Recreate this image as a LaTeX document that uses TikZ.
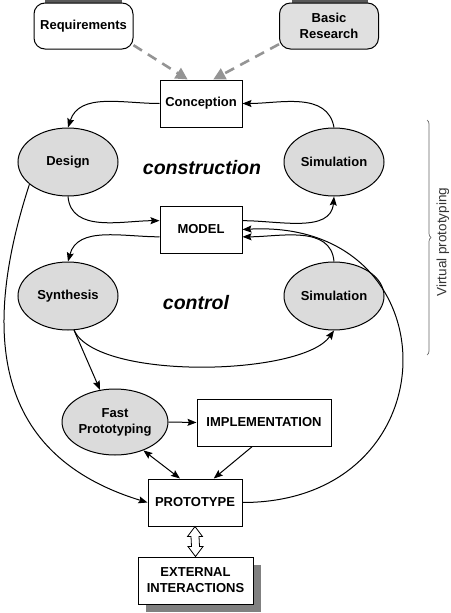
\documentclass[tikz,border=0pt]{standalone}
\usepackage{fontspec}
\setmainfont{Liberation Sans}
\usetikzlibrary{arrows.meta,shapes.geometric,shadows,decorations.pathreplacing,calc}

\begin{document}
\begin{tikzpicture}[x=1pt,y=-1pt,
  >={Stealth[length=9pt,width=7pt,inset=1.5pt]},
  lbl/.style={font=\bfseries\fontsize{13}{16}\selectfont,align=center},
  box/.style={lbl,draw,line width=1pt,fill=white,minimum height=47pt,inner sep=2pt},
  ell/.style={lbl,ellipse,draw,line width=1pt,fill=black!14,minimum width=100pt,minimum height=68pt,inner sep=1pt},
  rbox/.style={lbl,draw,line width=1pt,rounded corners=11pt,minimum width=99pt,minimum height=46pt},
  flow/.style={line width=1pt,->},
  feed/.style={draw=black!42,line width=2.6pt,dash pattern=on 10pt off 7pt,-{Triangle[length=12pt,width=12pt]}},
  title/.style={font=\bfseries\itshape\fontsize{19.5}{22}\selectfont}]
\useasboundingbox (0,0) rectangle (450,613);
% inputs at the top
\fill[black!65] (45,0) rectangle (122,10);
\fill[black!65] (292,0) rectangle (368,10);
\node[rbox,fill=white] (req) at (83.5,26) {Requirements};
\node[rbox,fill=black!12] (basic) at (329,26) {Basic\\Research};
\node[box,minimum width=82pt] (conc) at (201,103.5) {Conception};
\draw[feed] (req.-21) -- (conc.119);
\draw[feed] (basic.200) -- (conc.63);
% construction loop
\node[ell] (design) at (68,162) {Design};
\node[ell] (simA) at (334,162) {Simulation};
\node[title] (cons) at (202,168) {construction};
\node[box,minimum width=82pt] (model) at (201,229.5) {MODEL};
\draw[flow] (conc.west) to[out=180,in=72] (design.north);
\draw[flow] (simA.north) to[out=100,in=0] (conc.east);
\draw[flow] (design.south) to[out=-85,in=180] (model.168);
\draw[flow] (model.12) to[out=0,in=-95] (simA.south);
% control loop
\node[ell] (synth) at (68,296) {Synthesis};
\node[ell] (simB) at (334,296) {Simulation};
\node[title] (ctrl) at (196,303) {control};
\draw[flow] (model.190) to[out=180,in=75] (synth.north);
\draw[flow] (simB.north) to[out=95,in=0] (model.-10);
\draw[flow] (synth.-80) to[out=-65,in=-125,looseness=0.55] (simB.south);
% realisation
\node[ell,minimum width=99pt,minimum height=66pt] (fastp) at (115,422) {Fast\\Prototyping};
\node[box,minimum width=134pt] (impl) at (264,422.5) {IMPLEMENTATION};
\node[box,minimum width=94pt] (proto) at (195,502.5) {PROTOTYPE};
\node[box,minimum width=115pt,drop shadow={shadow xshift=8pt,shadow yshift=-8pt,fill=black!50,opacity=1}] (ext) at (195.5,580.5) {EXTERNAL\\INTERACTIONS};
\draw[flow] (synth.-80) -- (fastp.115);
\draw[flow] (fastp.east) -- (impl.west);
\draw[flow,<->] (fastp.-45) -- (proto.122);
\draw[flow] (impl.244) -- (proto.52);
\draw[flow] (design.210) to[out=-108,in=163,looseness=1.2] (proto.west);
\draw[flow] (proto.east) to[out=0,in=3,looseness=2] (model.east);
% hollow double arrow
\draw[line width=0.8pt,fill=white] (proto.south) -- ++(7.5,10) -- ++(-3.5,0) -- ($(ext.north)+(4,-10)$) -- ++(3.5,0) -- (ext.north) -- ++(-7.5,-10) -- ++(3.5,0) -- ($(proto.south)+(-4,10)$) -- ++(-3.5,0) -- cycle;
% brace
\draw[black!60,line width=0.7pt,decorate,decoration={brace,amplitude=4pt}] (427,120) -- (427,355);
\node[rotate=90,text=black!80,font=\fontsize{13.5}{16}\selectfont] (vp) at (443,242) {Virtual prototyping};
\end{tikzpicture}
\end{document}
